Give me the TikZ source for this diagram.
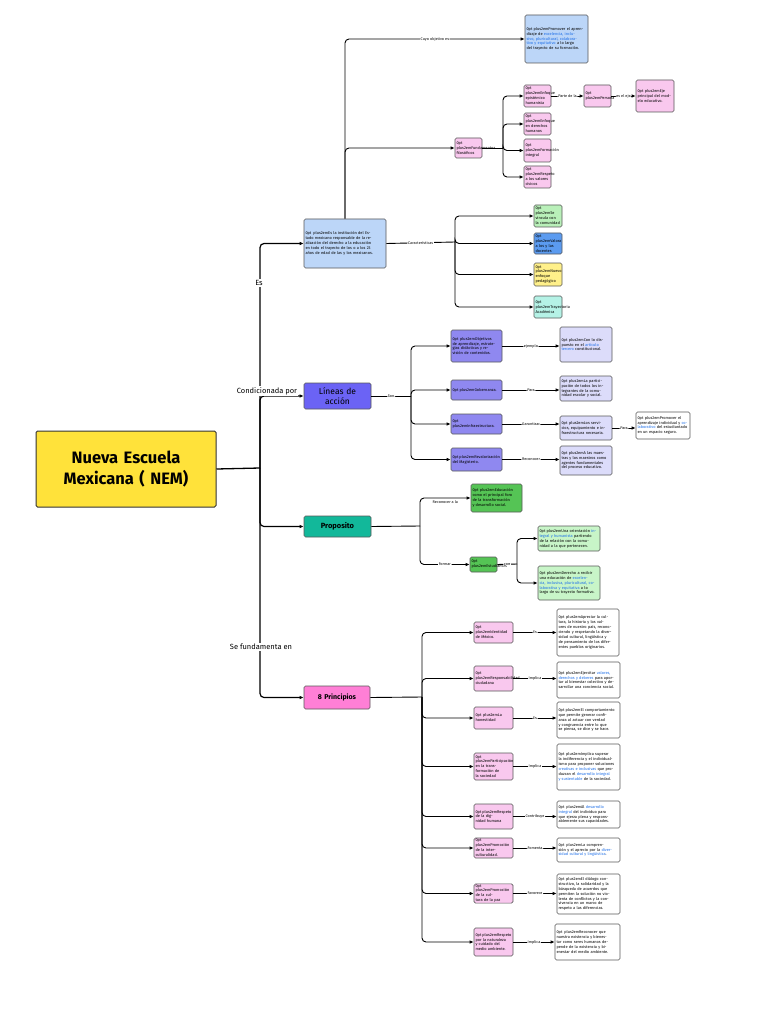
\documentclass[tikz,border=0pt]{standalone}
\usepackage{fontspec}
\setmainfont{Fira Sans}
\usetikzlibrary{arrows.meta}
\definecolor{lb}{HTML}{1E6FE8}
\definecolor{esblue}{HTML}{BCD6F8}
\definecolor{pinkl}{HTML}{F9C8EE}
\definecolor{linea}{HTML}{6B63F5}
\definecolor{lineb}{HTML}{8F88F0}
\definecolor{linec}{HTML}{DCDCFA}
\definecolor{gvinc}{HTML}{B9F0B9}
\definecolor{bval}{HTML}{5B9BF0}
\definecolor{ynue}{HTML}{FFF08A}
\definecolor{ctra}{HTML}{B5F2E6}
\definecolor{teal}{HTML}{12B89A}
\definecolor{gdark}{HTML}{55C455}
\definecolor{glight}{HTML}{C8F5C8}
\definecolor{pprin}{HTML}{FF7FD6}
\definecolor{ymain}{HTML}{FFE23A}
\newcommand\bl[1]{\textcolor{lb}{#1}}
\tikzset{
 box/.style={draw=black!65,line width=0.6pt,rounded corners=1.5pt,align=center,inner sep=0.5pt,
   font=\fontsize{3.9}{4.9}\selectfont\hyphenpenalty=10000\exhyphenpenalty=10000},
 arr/.style={line width=0.9pt,-{Latex[length=4pt,width=3.5pt]},rounded corners=4pt},
 ln/.style={line width=0.9pt,rounded corners=4pt},
 trunk/.style={line width=1.3pt,rounded corners=4pt},
 lbl/.style={fill=white,inner sep=0.6pt,font=\fontsize{3.8}{4.5}\selectfont},
 biglbl/.style={fill=white,inner sep=1pt,font=\fontsize{7.5}{9}\selectfont},
}
\newcommand\mybox[8][]{%
 \pgfmathsetmacro\bw{#5-#3}\pgfmathsetmacro\bh{#6-#4}\pgfmathsetmacro\tw{#5-#3-3}%
 \node[box,fill=#7,minimum width=\bw pt,minimum height=\bh pt,text width=\tw pt,#1] (#2) at ({(#3+#5)/2},{(#4+#6)/2}) {#8};}
\begin{document}
\begin{tikzpicture}[x=1pt,y=-1pt]
\useasboundingbox[fill=white] (0,0) rectangle (768,1024);
% main
\mybox[font=\fontsize{16.5}{21}\selectfont\bfseries,line width=1pt,draw=black!80]{main}{36}{431}{216}{507}{ymain}{Nueva Escuela Mexicana ( NEM)}
\coordinate (t) at (260,468);
% level 1
\mybox{es}{304}{219}{386}{268}{esblue}{Es la institución del Estado mexicano responsable de la realización del derecho a la educación en todo el trayecto de los o a los 23 años de edad de las y los mexicanos.}
\mybox[font=\fontsize{8.5}{10}\selectfont]{lin}{304}{383}{371}{409}{linea}{Líneas de acción}
\mybox[font=\fontsize{7.5}{9}\selectfont\bfseries]{pro}{304}{516}{371}{537}{teal}{Proposito}
\mybox[font=\fontsize{7}{9}\selectfont\bfseries]{pri}{304}{686}{370}{709}{pprin}{8 Principios}
\draw[trunk] (main.east) -- (t);
\draw[arr,line width=1.2pt] (t) |- (es.west);
\draw[arr,line width=1.2pt] (t) |- (lin.west);
\draw[arr,line width=1.2pt] (t) |- (pro.west);
\draw[arr,line width=1.2pt] (t) |- (pri.west);
\node[biglbl] at (259,283) {Es};
\node[biglbl] at (267,391) {Condicionada por};
\node[biglbl] at (261,647) {Se fundamenta en};
% Es branch
\mybox{obj}{525}{15}{588}{63}{esblue}{Promover el aprendizaje de \bl{excelencia, inclusivo, pluricultural, colaborativo y equitativo} a lo largo del trayecto de su formación.}
\mybox{fun}{455}{138}{482}{158}{pinkl}{Fundamentos filosóficos}
\draw[arr] (es.north) |- node[lbl,pos=0.75]{Cuyo objetivo es} (obj.west);
\draw[arr] (es.north) |- (fun.west);
\mybox{f1}{524}{85}{551}{107}{pinkl}{Enfoque epistémico humanista}
\mybox{f2}{524}{113}{551}{135}{pinkl}{Enfoque en derechos humanos}
\mybox{f3}{524}{139}{551}{162}{pinkl}{Formación integral}
\mybox{f4}{524}{166}{551}{188}{pinkl}{Respeto a los valores cívicos}
\coordinate (fb) at (503,148);
\draw[ln] (fun.east) -- (fb);
\foreach \n in {f1,f2,f3,f4}{\draw[arr] (fb) |- (\n.west);}
\mybox{per}{584}{85}{611}{107}{pinkl}{Persona}
\mybox{eje}{636}{80}{674}{112}{pinkl}{Eje principal del modelo educativo.}
\draw[arr] (f1.east) -- node[lbl]{Parte de la} (per.west);
\draw[arr] (per.east) -- node[lbl]{es el eje} (eje.west);
% caracteristicas
\mybox{c1}{534}{205}{562}{227}{gvinc}{Se vincula con la comunidad}
\mybox{c2}{534}{233}{562}{254}{bval}{Valora a los y las docentes}
\mybox{c3}{534}{263}{562}{286}{ynue}{Nuevo enfoque pedagógico}
\mybox{c4}{534}{296}{562}{318}{ctra}{Trayectoria Académica}
\coordinate (cb) at (455,242);
\draw[ln] (es.east) -- node[lbl]{Características} (cb);
\foreach \n in {c1,c2,c3,c4}{\draw[arr] (cb) |- (\n.west);}
% lineas
\mybox{l1}{451}{330}{502}{362}{lineb}{Objetivos de aprendizaje, estrategias didácticas y revisión de contenidos.}
\mybox{l2}{451}{380}{502}{400}{lineb}{Gobernanza.}
\mybox{l3}{451}{414}{502}{434}{lineb}{Infraestructura.}
\mybox{l4}{451}{448}{502}{471}{lineb}{Revalorización del Magisterio.}
\coordinate (lb0) at (411,396);
\draw[ln] (lin.east) -- node[lbl]{Son} (lb0);
\foreach \n in {l1,l2,l3,l4}{\draw[arr] (lb0) |- (\n.west);}
\mybox{m1}{560}{327}{612}{362}{linec}{Con lo dispuesto en el \bl{artículo tercero} constitucional.}
\mybox{m2}{560}{376}{612}{401}{linec}{La participación de todos los integrantes de la comunidad escolar y social.}
\mybox{m3}{560}{416}{612}{440}{linec}{Los servicios, equipamiento e infraestructura necesaria.}
\mybox{m4}{560}{446}{612}{475}{linec}{A las maestras y los maestros como agentes fundamentales del proceso educativo.}
\mybox{m5}{636}{412}{690}{439}{white}{Promover el aprendizaje individual y \bl{colaborativo} del estudiantado en un espacio seguro.}
\draw[arr] (l1.east) -- node[lbl]{ejemplo} (m1.west|-l1.east);
\draw[arr] (l2.east) -- node[lbl]{Para} (m2.west|-l2.east);
\draw[arr] (l3.east) -- node[lbl]{Garantizar} (m3.west|-l3.east);
\draw[arr] (l4.east) -- node[lbl]{Reconocer} (m4.west|-l4.east);
\draw[arr] (m3.east) -- node[lbl]{Para} (m5.west|-m3.east);
% proposito
\mybox{p1}{471}{484}{522}{512}{gdark}{Educación como el principal foro de la transformación y desarrollo social.}
\mybox{p2}{470}{557}{497}{572}{gdark}{Estudiantes}
\coordinate (pb) at (420,526);
\draw[ln] (pro.east) -- (pb);
\draw[arr] (pb) |- node[lbl,pos=0.75,yshift=-4pt]{Reconocer a la} (p1.west);
\draw[arr] (pb) |- node[lbl,pos=0.75]{Formar} (p2.west);
\mybox{q1}{538}{526}{600}{551}{glight}{Una orientación \bl{integral y humanista} partiendo de la relación con la comunidad a la que pertenecen.}
\mybox{q2}{538}{566}{600}{600}{glight}{Derecho a recibir una educación de \bl{excelencia, inclusiva, pluricultural, colaborativa y equitativa} a lo largo de su trayecto formativo.}
\coordinate (qb) at (517,564);
\draw[ln] (p2.east) -- node[lbl]{con} (qb);
\draw[arr] (qb) |- (q1.west);
\draw[arr] (qb) |- (q2.west);
% principios
\coordinate (rb) at (422,697);
\draw[ln] (pri.east) -- (rb);
\mybox{r1}{474}{622}{513}{643}{pinkl}{Identidad de México.}
\mybox{r2}{474}{666}{513}{691}{pinkl}{Responsabilidad ciudadana}
\mybox{r3}{474}{707}{513}{729}{pinkl}{La honestidad}
\mybox{r4}{474}{753}{513}{780}{pinkl}{Participación en la transformación de la sociedad}
\mybox{r5}{474}{804}{513}{829}{pinkl}{Respeto de la dignidad humana}
\mybox{r6}{474}{838}{513}{858}{pinkl}{Promoción de la interculturalidad.}
\mybox{r7}{474}{884}{513}{903}{pinkl}{Promoción de la cultura de la paz}
\mybox{r8}{474}{928}{513}{956}{pinkl}{Respeto por la naturaleza y cuidado del medio ambiente.}
\foreach \n in {r1,r2,r3,r4,r5,r6,r7,r8}{\draw[arr] (rb) |- (\n.west);}
\mybox{s1}{557}{609}{619}{656}{white}{Apreciar la cultura, la historia y los valores de nuestro país, reconociendo y respetando la diversidad cultural, lingüística y de pensamiento de los diferentes pueblos originarios.}
\mybox{s2}{557}{662}{620}{698}{white}{Ejercitar \bl{valores, derechos y deberes} para aportar al bienestar colectivo y desarrollar una conciencia social.}
\mybox{s3}{557}{702}{620}{738}{white}{El comportamiento que permite generar confianza al actuar con verdad y congruencia entre lo que se piensa, se dice y se hace.}
\mybox{s4}{557}{744}{620}{790}{white}{Implica superar la indiferencia y el individualismo para proponer soluciones \bl{creativas e inclusivas} que produzcan el \bl{desarrollo integral y sustentable} de la sociedad.}
\mybox{s5}{557}{801}{620}{828}{white}{Al \bl{desarrollo integral} del individuo para que ejerza plena y responsablemente sus capacidades.}
\mybox{s6}{557}{838}{620}{862}{white}{La comprensión y el aprecio por la \bl{diversidad cultural y lingüística}.}
\mybox{s7}{557}{874}{620}{914}{white}{El diálogo constructivo, la solidaridad y la búsqueda de acuerdos que permiten la solución no violenta de conflictos y la convivencia en un marco de respeto a las diferencias.}
\mybox{s8}{555}{924}{620}{960}{white}{Reconocer que nuestra existencia y bienestar como seres humanos depende de la existencia y bienestar del medio ambiente.}
\draw[arr] (r1.east) -- node[lbl]{Es} (s1.west|-r1.east);
\draw[arr] (r2.east) -- node[lbl]{Implica} (s2.west|-r2.east);
\draw[arr] (r3.east) -- node[lbl]{Es} (s3.west|-r3.east);
\draw[arr] (r4.east) -- node[lbl]{Implica} (s4.west|-r4.east);
\draw[arr] (r5.east) -- node[lbl]{Contribuye} (s5.west|-r5.east);
\draw[arr] (r6.east) -- node[lbl]{Fomenta} (s6.west|-r6.east);
\draw[arr] (r7.east) -- node[lbl]{Favorece} (s7.west|-r7.east);
\draw[arr] (r8.east) -- node[lbl]{Implica} (s8.west|-r8.east);
\end{tikzpicture}
\end{document}
